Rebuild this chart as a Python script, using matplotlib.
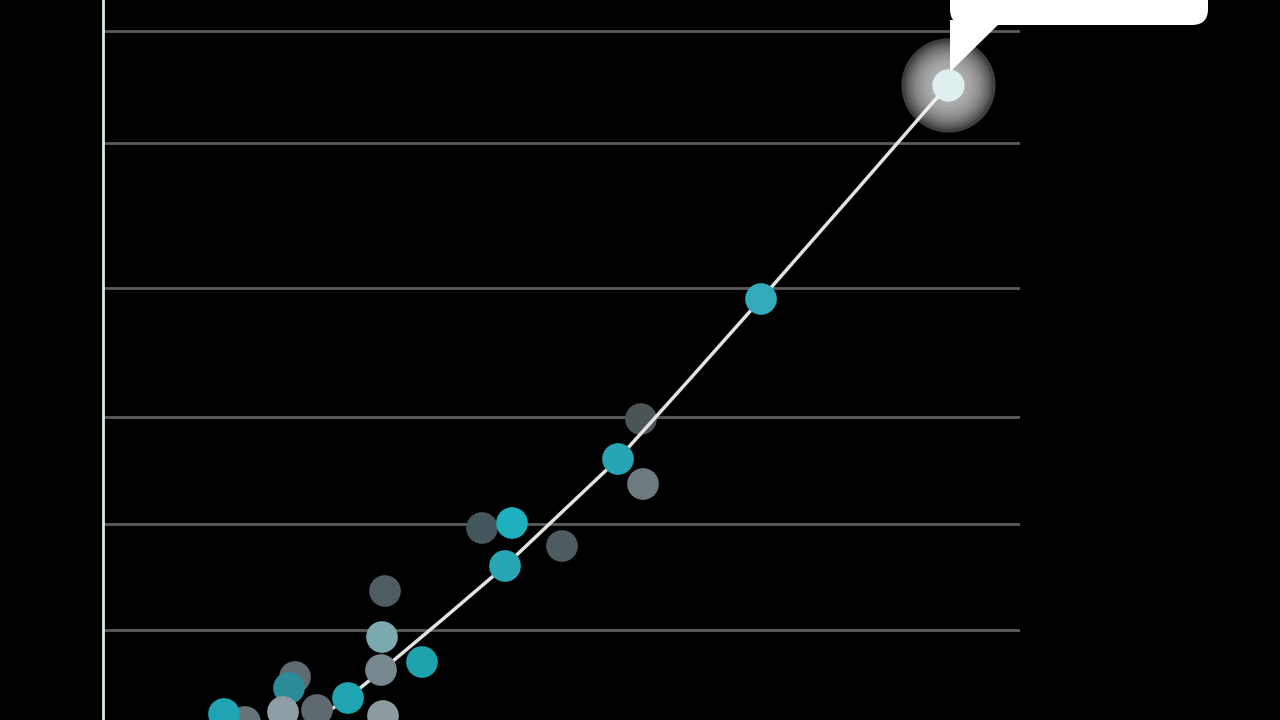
import matplotlib
matplotlib.use("Agg")
import matplotlib.pyplot as plt
from matplotlib.patches import FancyBboxPatch, Polygon
from matplotlib.transforms import IdentityTransform
import numpy as np

# scatter points (x, y) with their colours; "front" ones sit above the trend line
pt_x = [12.1, 18.6, 24.5, 31.9, 40.2, 40.9, 51.5, 65.8,
        19.2, 18.0, 21.4, 14.2, 27.8, 27.9, 28.2, 28.0, 37.9, 45.9, 53.8, 54.0]
pt_y = [0.6, 3.2, 2.2, 5.8, 15.4, 19.7, 26.1, 42.1,
        4.3, 0.8, 1.0, -0.2, 5.0, 8.3, 12.9, 0.4, 19.2, 17.4, 30.1, 23.6]
pt_colors = ["#1fa4b3", "#2a8b99", "#1fa4b3", "#1ea2ae", "#27a6b6", "#1eb0bd", "#25a5b5", "#33aabb",
             "#5e6b70", "#8e9ea4", "#5f6a70", "#66747a", "#77888e", "#7aaab0", "#4f5c62", "#8d9ba0",
             "#44575c", "#4e5b60", "#4b5558", "#6d7b80"]
pt_front = [1, 1, 1, 1, 1, 1, 1, 1,
            0, 1, 1, 0, 1, 1, 0, 1, 0, 0, 0, 1]

# fitted trend line
line_x = [21.2, 24.5, 27.8, 34.0, 40.2, 45.9, 51.5, 58.6, 65.8, 75.1, 84.5]
line_y = [0.0, 2.2, 4.9, 10.1, 15.4, 20.8, 26.1, 34.0, 42.1, 52.7, 63.5]

# highlighted last point
hi_x, hi_y = 84.5, 63.5

grid_y = [9.0, 19.6, 30.3, 43.2, 57.7, 68.9]

fig = plt.figure(figsize=(12.8, 7.2), dpi=100, facecolor="black")
ax = fig.add_axes([103 / 1280, 0, 917 / 1280, 1])
ax.set_facecolor("black")
ax.set_xlim(0, 91.7)
ax.set_ylim(0, 72)

for side in ["top", "right", "bottom"]:
    ax.spines[side].set_visible(False)
ax.spines["left"].set_color("#d3ecec")
ax.spines["left"].set_linewidth(2)
ax.spines["left"].set_zorder(6)

ax.set_yticks(grid_y)
ax.set_xticks([])
ax.tick_params(axis="y", length=0, labelleft=False)
ax.yaxis.grid(True, color="#5c5c5c", linewidth=2)
ax.set_axisbelow(True)

pt_x = np.array(pt_x)
pt_y = np.array(pt_y)
pt_colors = np.array(pt_colors)
front = np.array(pt_front) == 1

ax.scatter(pt_x[~front], pt_y[~front], s=520, c=pt_colors[~front], linewidths=0, zorder=2)
ax.plot(line_x, line_y, color="#e2e2e2", linewidth=2.5, zorder=3, solid_capstyle="round")
ax.scatter(pt_x[front], pt_y[front], s=520, c=pt_colors[front], linewidths=0, zorder=4)

# glow around highlighted point: grey disc brightening toward the centre
ax.scatter([hi_x], [hi_y], s=4600, color="white", alpha=0.25, linewidths=0, zorder=5)
for sz in np.linspace(4000, 700, 11):
    ax.scatter([hi_x], [hi_y], s=sz, color="white", alpha=0.08, linewidths=0, zorder=5)
ax.scatter([hi_x], [hi_y], s=540, color="#dfeeee", linewidths=0, zorder=6)

# callout bubble pointing at the highlighted point
tip = ax.transData.transform((hi_x, hi_y))
box = FancyBboxPatch((950, 695), 258, 80, boxstyle="round,pad=0,rounding_size=16",
                     transform=IdentityTransform(), facecolor="white",
                     edgecolor="none", zorder=10)
fig.patches.append(box)
ptr = Polygon([(950, 700), (1003, 700), (tip[0] + 2, tip[1] + 13)], closed=True,
              transform=IdentityTransform(), facecolor="white", edgecolor="none", zorder=10)
fig.patches.append(ptr)

fig.savefig("out.png", dpi=100, facecolor="black")
